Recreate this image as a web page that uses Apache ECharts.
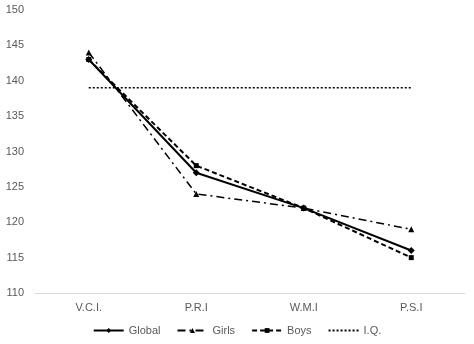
<!DOCTYPE html>
<html><head><meta charset="utf-8">
<script src="https://cdn.jsdelivr.net/npm/echarts@6/dist/echarts.min.js"></script>
<style>html,body{margin:0;padding:0;background:#fff}#c{width:474px;height:344px}</style>
</head><body><div id="c"></div>
<script>
var categories = ['V.C.I.', 'P.R.I', 'W.M.I', 'P.S.I'];
var globalVals = [143, 127, 122, 116];
var girlsVals = [144, 124, 122, 119];
var boysVals = [143, 128, 122, 115];
var iqVals = [139, 139, 139, 139];
var yTicks = [110, 115, 120, 125, 130, 135, 140, 145, 150];

var chart = echarts.init(document.getElementById('c'));
var txt = {color: '#595959', fontFamily: 'Liberation Sans, Arial, sans-serif', fontSize: 11};
chart.setOption({
  animation: false,
  grid: {left: 35, right: 9, top: 10, bottom: 51},
  xAxis: {
    type: 'category', data: categories, boundaryGap: true,
    axisLine: {lineStyle: {color: '#d9d9d9', width: 1}},
    axisTick: {show: false},
    axisLabel: Object.assign({margin: 9}, txt)
  },
  yAxis: {
    type: 'value', min: yTicks[0], max: yTicks[yTicks.length - 1], interval: 5,
    axisLine: {show: false}, axisTick: {show: false},
    splitLine: {show: false},
    axisLabel: Object.assign({margin: 11}, txt)
  },
  legend: {
    bottom: 3, left: 'center', itemWidth: 30, itemHeight: 6, itemGap: 16,
    textStyle: txt,
    data: ['Global', 'Girls', 'Boys', {name: 'I.Q.', itemStyle: {opacity: 0}}]
  },
  series: [
    {name: 'Global', type: 'line', data: globalVals, symbol: 'diamond', symbolSize: 7,
     lineStyle: {color: '#000', width: 2}, itemStyle: {color: '#000'}},
    {name: 'Girls', type: 'line', data: girlsVals, symbol: 'triangle', symbolSize: 6,
     lineStyle: {color: '#000', width: 1.5, type: [8, 4, 2, 4]}, itemStyle: {color: '#000'}},
    {name: 'Boys', type: 'line', data: boysVals, symbol: 'rect', symbolSize: 5,
     lineStyle: {color: '#000', width: 2, type: [5, 3]}, itemStyle: {color: '#000'}},
    {name: 'I.Q.', type: 'line', data: iqVals, symbol: 'none',
     lineStyle: {color: '#000', width: 1.5, type: [2, 2]}, itemStyle: {color: '#000'}}
  ]
});
</script></body></html>
